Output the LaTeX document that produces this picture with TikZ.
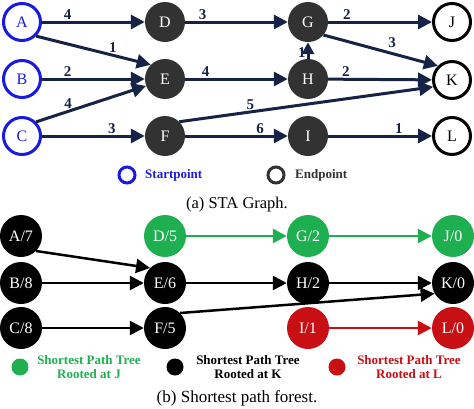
\documentclass[tikz,border=0pt]{standalone}
\usepackage{fontspec}
\setmainfont{Liberation Serif}
\usepackage{xcolor}
\usetikzlibrary{arrows.meta, positioning, calc}

\definecolor{stablue}{RGB}{25,25,225}
\definecolor{edgenavy}{RGB}{22,35,70}
\definecolor{nodegray}{RGB}{50,50,50}
\definecolor{treegreen}{RGB}{30,176,80}
\definecolor{treered}{RGB}{200,15,20}

\tikzset{
  startnode/.style={circle, draw=stablue, line width=3pt, minimum size=37pt, inner sep=0pt, text=stablue, font=\fontsize{16}{18}\selectfont},
  midnode/.style={circle, fill=nodegray, minimum size=40pt, inner sep=0pt, text=white, font=\fontsize{16}{18}\selectfont},
  endnode/.style={circle, draw=black, line width=3pt, minimum size=37pt, inner sep=0pt, font=\fontsize{16}{18}\selectfont},
  treenode/.style={circle, fill=#1, minimum size=42pt, inner sep=0pt, text=white, font=\fontsize{16}{18}\selectfont},
  staedge/.style={draw=edgenavy, line width=3pt, -{Triangle[length=14pt,width=14pt]}},
  treeedge/.style={draw=#1, line width=2.5pt, -{Triangle[length=14pt,width=14pt]}},
  wlabel/.style={above, inner sep=1pt, text=edgenavy, font=\fontsize{15}{17}\selectfont\bfseries},
  keytext/.style={font=\fontsize{13}{14.5}\selectfont\bfseries, align=center}
}

\begin{document}
\begin{tikzpicture}[x=1pt,y=-1pt]
\useasboundingbox (0,0) rectangle (474,408);

% (a) STA graph
\node[startnode] (A) at (22,22) {A};
\node[startnode] (B) at (22,79) {B};
\node[startnode] (C) at (22,136) {C};
\node[midnode] (D) at (165,22) {D};
\node[midnode] (E) at (165,79) {E};
\node[midnode] (F) at (165,136) {F};
\node[midnode] (G) at (308,22) {G};
\node[midnode] (H) at (308,79) {H};
\node[midnode] (I) at (308,136) {I};
\node[endnode] (J) at (452,22) {J};
\node[endnode] (K) at (452,80) {K};
\node[endnode] (L) at (452,136) {L};

\draw[staedge] (A) -- node[wlabel, pos=0.25] {4} (D);
\draw[staedge] (A.-45) -- node[wlabel, pos=0.67] {1} (E.135);
\draw[staedge] (B) -- node[wlabel, pos=0.25] {2} (E);
\draw[staedge] (C.45) -- node[wlabel, pos=0.29] {4} (E.200);
\draw[staedge] (C) -- node[wlabel, pos=0.68] {3} (F);
\draw[staedge] (D) -- node[wlabel, pos=0.17] {3} (G);
\draw[staedge] (E) -- node[wlabel, pos=0.2] {4} (H);
\draw[staedge] (F.45) -- node[wlabel, pos=0.28] {5} (K.200);
\draw[staedge] (F) -- node[wlabel, pos=0.73] {6} (I);
\draw[staedge] (G) -- node[wlabel, pos=0.18] {2} (J);
\draw[staedge] (G.-40) -- node[wlabel, pos=0.6, above=3pt] {3} (K.135);
\draw[staedge, -{Triangle[length=12pt,width=12pt]}] (H) -- node[wlabel, left, pos=0.4] {1} (G);
\draw[staedge] (H) -- node[wlabel, pos=0.17] {2} (K);
\draw[staedge] (I) -- node[wlabel, pos=0.68] {1} (L);

% legend (a)
\node[circle, draw=stablue, line width=3pt, minimum size=16pt, inner sep=0pt] (startkey) at (127,175) {};
\node[keytext, text=stablue, anchor=west, inner sep=0pt] (starttext) at (145,175) {Startpoint};
\node[circle, draw=nodegray, line width=3pt, minimum size=16pt, inner sep=0pt] (endkey) at (276,175) {};
\node[keytext, text=nodegray, anchor=west, inner sep=0pt] (endtext) at (295,175) {Endpoint};
\node[font=\fontsize{16.5}{18}\selectfont] (capa) at (237,205) {(a) STA Graph.};

% (b) shortest path forest
\node[treenode=black] (A7) at (21,236) {A/7};
\node[treenode=black] (B8) at (21,283) {B/8};
\node[treenode=black] (C8) at (21,328) {C/8};
\node[treenode=treegreen] (D5) at (165,236) {D/5};
\node[treenode=black] (E6) at (165,283) {E/6};
\node[treenode=black] (F5) at (165,328) {F/5};
\node[treenode=treegreen] (G2) at (308,236) {G/2};
\node[treenode=black] (H2) at (308,283) {H/2};
\node[treenode=treered] (I1) at (308,328) {I/1};
\node[treenode=treegreen] (J0) at (453,236) {J/0};
\node[treenode=black] (K0) at (453,283) {K/0};
\node[treenode=treered] (L0) at (453,328) {L/0};

\draw[treeedge=black] (A7.-45) -- (E6.135);
\draw[treeedge=black] (B8) -- (E6);
\draw[treeedge=black] (C8) -- (F5);
\draw[treeedge=treegreen] (D5) -- (G2);
\draw[treeedge=treegreen] (G2) -- (J0);
\draw[treeedge=black] (E6) -- (H2);
\draw[treeedge=black] (H2) -- (K0);
\draw[treeedge=black] (F5.45) -- (K0.210);
\draw[treeedge=treered] (I1) -- (L0);

% legend (b)
\node[circle, fill=treegreen, minimum size=17pt, inner sep=0pt] (jkey) at (20,367) {};
\node[keytext, text=treegreen] (jtext) at (89,367) {Shortest Path Tree\\Rooted at J};
\node[circle, fill=black, minimum size=17pt, inner sep=0pt] (kkey) at (175,367) {};
\node[keytext] (ktext) at (248,367) {Shortest Path Tree\\Rooted at K};
\node[circle, fill=treered, minimum size=17pt, inner sep=0pt] (lkey) at (337,367) {};
\node[keytext, text=treered] (ltext) at (409,367) {Shortest Path Tree\\Rooted at L};
\node[font=\fontsize{17}{19}\selectfont] (capb) at (237,398) {(b) Shortest path forest.};
\end{tikzpicture}
\end{document}
